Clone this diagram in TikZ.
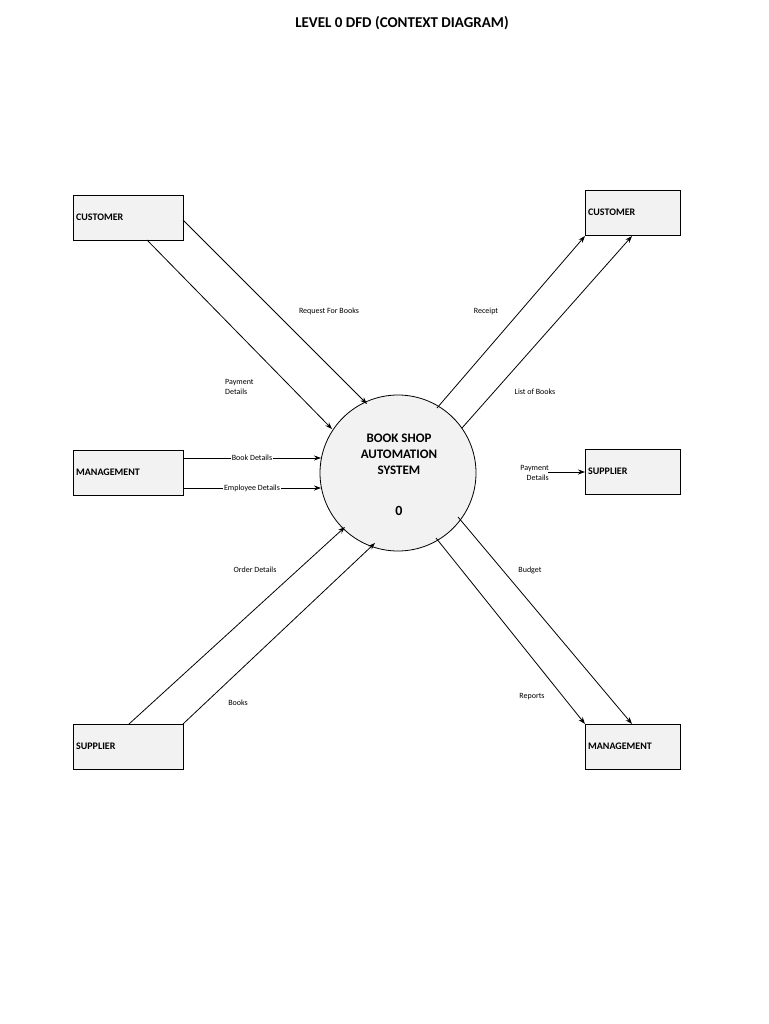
\documentclass[tikz,border=0pt]{standalone}
\usepackage{fontspec}
\setmainfont{Carlito}
\usetikzlibrary{arrows.meta}
\definecolor{boxfill}{HTML}{F2F2F2}
\begin{document}
\begin{tikzpicture}[x=1pt,y=-1pt,
  ent/.style={draw,fill=boxfill,line width=0.8pt,minimum width=110pt,minimum height=45pt,inner sep=1pt},
  entlbl/.style={font=\bfseries\fontsize{10}{12}\selectfont,anchor=west},
  flow/.style={-{Stealth[length=7pt,width=5pt]},line width=0.8pt},
  lbl/.style={font=\fontsize{8}{9.5}\selectfont,fill=white,inner sep=1pt}]
\useasboundingbox (0,0) rectangle (768,1024);
\node[font=\bfseries\fontsize{15}{18}\selectfont] (title) at (402,23) {LEVEL 0 DFD (CONTEXT DIAGRAM)};
\node[ent] (c1) at (128,217.5) {};
\node[entlbl] at (c1.west) {CUSTOMER};
\node[ent] (m1) at (128,472.5) {};
\node[entlbl] at (m1.west) {MANAGEMENT};
\node[ent] (s1) at (128,746.5) {};
\node[entlbl] at (s1.west) {SUPPLIER};
\node[ent,minimum width=95pt] (c2) at (632.5,212.5) {};
\node[entlbl] at (c2.west) {CUSTOMER};
\node[ent,minimum width=95pt] (s2) at (632.5,471.5) {};
\node[entlbl] at (s2.west) {SUPPLIER};
\node[ent,minimum width=95pt] (m2) at (632.5,746.5) {};
\node[entlbl] at (m2.west) {MANAGEMENT};
\node[circle,draw,fill=boxfill,line width=0.8pt,minimum size=156pt] (p) at (398,473) {};
\node[font=\bfseries\fontsize{13}{16}\selectfont,align=center] (pt) at (399,454) {BOOK SHOP\\AUTOMATION\\SYSTEM};
\node[font=\bfseries\fontsize{14}{16}\selectfont] (pn) at (399,511) {0};
\coordinate (a1s) at (183,220); \coordinate (a1e) at (367,404);
\coordinate (a2s) at (147,240); \coordinate (a2e) at (332,429);
\coordinate (a3s) at (183,458); \coordinate (a3e) at (321,458);
\coordinate (a4s) at (183,488); \coordinate (a4e) at (321,488);
\coordinate (a5s) at (129,724); \coordinate (a5e) at (345,527);
\coordinate (a6s) at (183,724); \coordinate (a6e) at (375,543);
\coordinate (b1s) at (437,408); \coordinate (b1e) at (585,236);
\coordinate (b2s) at (462,428); \coordinate (b2e) at (632,236);
\coordinate (b3s) at (548,472); \coordinate (b3e) at (585,472);
\coordinate (b4s) at (458,517); \coordinate (b4e) at (632,724);
\coordinate (b5s) at (436,538); \coordinate (b5e) at (585,724);
\foreach \s/\e in {a1s/a1e,a2s/a2e,a3s/a3e,a4s/a4e,a5s/a5e,a6s/a6e,b1s/b1e,b2s/b2e,b3s/b3e,b4s/b4e,b5s/b5e}
  \draw[flow] (\s) -- (\e);
\node[lbl] (l1) at (329,311) {Request For Books};
\node[lbl,align=left,anchor=west] (l2) at (224,387) {Payment\\Details};
\node[lbl] (l3) at (252,458) {Book Details};
\node[lbl] (l4) at (252,488) {Employee Details};
\node[lbl] (l5) at (255,570) {Order Details};
\node[lbl] (l6) at (238,703) {Books};
\node[lbl] (l7) at (486,311) {Receipt};
\node[lbl] (l8) at (535,392) {List of Books};
\node[lbl,align=right,anchor=east,fill=none] (l9) at (550,473) {Payment\\Details};
\node[lbl] (l10) at (530,570) {Budget};
\node[lbl] (l11) at (532,697) {Reports};
\end{tikzpicture}
\end{document}
